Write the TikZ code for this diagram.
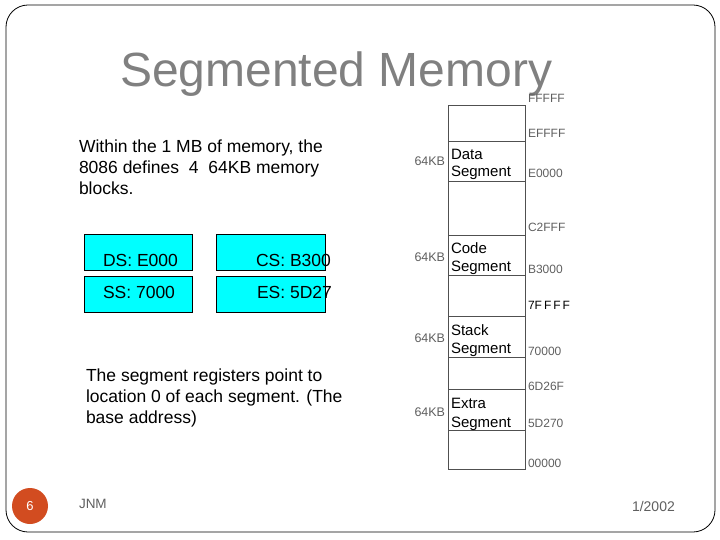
\documentclass[tikz,border=0pt]{standalone}
\usepackage{fontspec}
\setmainfont{Liberation Sans}
\definecolor{titlegray}{RGB}{128,128,128}
\definecolor{lblgray}{RGB}{95,95,95}
\definecolor{linegray}{RGB}{80,80,80}
\definecolor{regcyan}{RGB}{0,255,255}
\definecolor{slideorange}{RGB}{210,76,32}
\newcommand{\fs}[2]{\fontsize{#1}{#2}\selectfont}
\begin{document}
\begin{tikzpicture}[x=1pt,y=-1pt,
  txt/.style={anchor=base west,inner sep=0pt,outer sep=0pt},
  addr/.style={txt,font=\fs{12}{14},text=lblgray},
  kb/.style={txt,font=\fs{12.5}{14},text=lblgray},
  seglbl/.style={txt,font=\fs{15}{18},text=black},
  para/.style={txt,font=\fs{17.5}{21},text=black},
  regbox/.style={draw=black,fill=regcyan,line width=0.6pt},
  reg/.style={txt,font=\fs{17.5}{21},text=black},
  memline/.style={draw=linegray,line width=0.8pt}]
\useasboundingbox (0,0) rectangle (720,540);
% frame
\draw[black,line width=0.8pt,rounded corners=22pt] (6,5) rectangle (715,532);
% title
\node[txt,font=\fs{48}{56},text=titlegray] (title) at (120,87) {Segmented Memory};
% paragraph 1
\node[para] (p1a) at (79,153) {Within the 1 MB of memory, the};
\node[para] (p1b) at (79,174) {8086 defines\ \ 4\ \ 64KB memory};
\node[para] (p1c) at (79,195) {blocks.};
% register boxes
\path[regbox] (84,234) rectangle (192,270.5);
\path[regbox] (84,276) rectangle (192,312);
\path[regbox] (216,234) rectangle (325,270.5);
\path[regbox] (216,276) rectangle (325,312);
\node[reg] (ds) at (103,266) {DS: E000};
\node[reg] (cs) at (256,266) {CS: B300};
\node[reg] (ss) at (103,298) {SS: 7000};
\node[reg] (es) at (257,298) {ES: 5D27};
% paragraph 2
\node[para] (p2a) at (86,381) {The segment registers point to};
\node[para] (p2b) at (86,402) {location 0 of each segment. (The};
\node[para] (p2c) at (86,423) {base address)};
% memory map
\draw[memline] (448,105) rectangle (525.5,469.5);
\foreach \yy in {141,181,235,275.5,316,357,389,430}
  \draw[memline] (448,\yy) -- (525.5,\yy);
\node[addr] (aFFFFF) at (528,103) {FFFFF};
\node[addr] (aEFFFF) at (528,138) {EFFFF};
\node[addr] (aE0000) at (528,178) {E0000};
\node[addr] (aC2FFF) at (528,232) {C2FFF};
\node[addr] (aB3000) at (528,273) {B3000};
\node[addr,text=black] (a7FFFF) at (528,309) {7F\,F\,F\,F};
\node[addr] (a70000) at (528,355) {70000};
\node[addr] (a6D26F) at (528,390) {6D26F};
\node[addr] (a5D270) at (528,427) {5D270};
\node[addr] (a00000) at (528,467) {00000};
\node[kb] (k1) at (414.5,166) {64KB};
\node[kb] (k2) at (414.5,261) {64KB};
\node[kb] (k3) at (414.5,342) {64KB};
\node[kb] (k4) at (414.5,416) {64KB};
\node[seglbl] (d1) at (451,160) {Data};
\node[seglbl] (d2) at (451,177) {Segment};
\node[seglbl] (c1) at (451,254) {Code};
\node[seglbl] (c2) at (451,271) {Segment};
\node[seglbl] (s1) at (451,335) {Stack};
\node[seglbl] (s2) at (451,353) {Segment};
\node[seglbl] (e1) at (451,408) {Extra};
\node[seglbl] (e2) at (451,427) {Segment};
% footer
\node[circle,fill=slideorange,minimum size=36pt,inner sep=0pt,text=white,font=\fs{13}{15}] (num) at (30,506) {6};
\node[txt,font=\fs{13.5}{15},text=lblgray] (jnm) at (79,508) {JNM};
\node[txt,font=\fs{14}{16},text=lblgray] (date) at (632,511) {1/2002};
\end{tikzpicture}
\end{document}
